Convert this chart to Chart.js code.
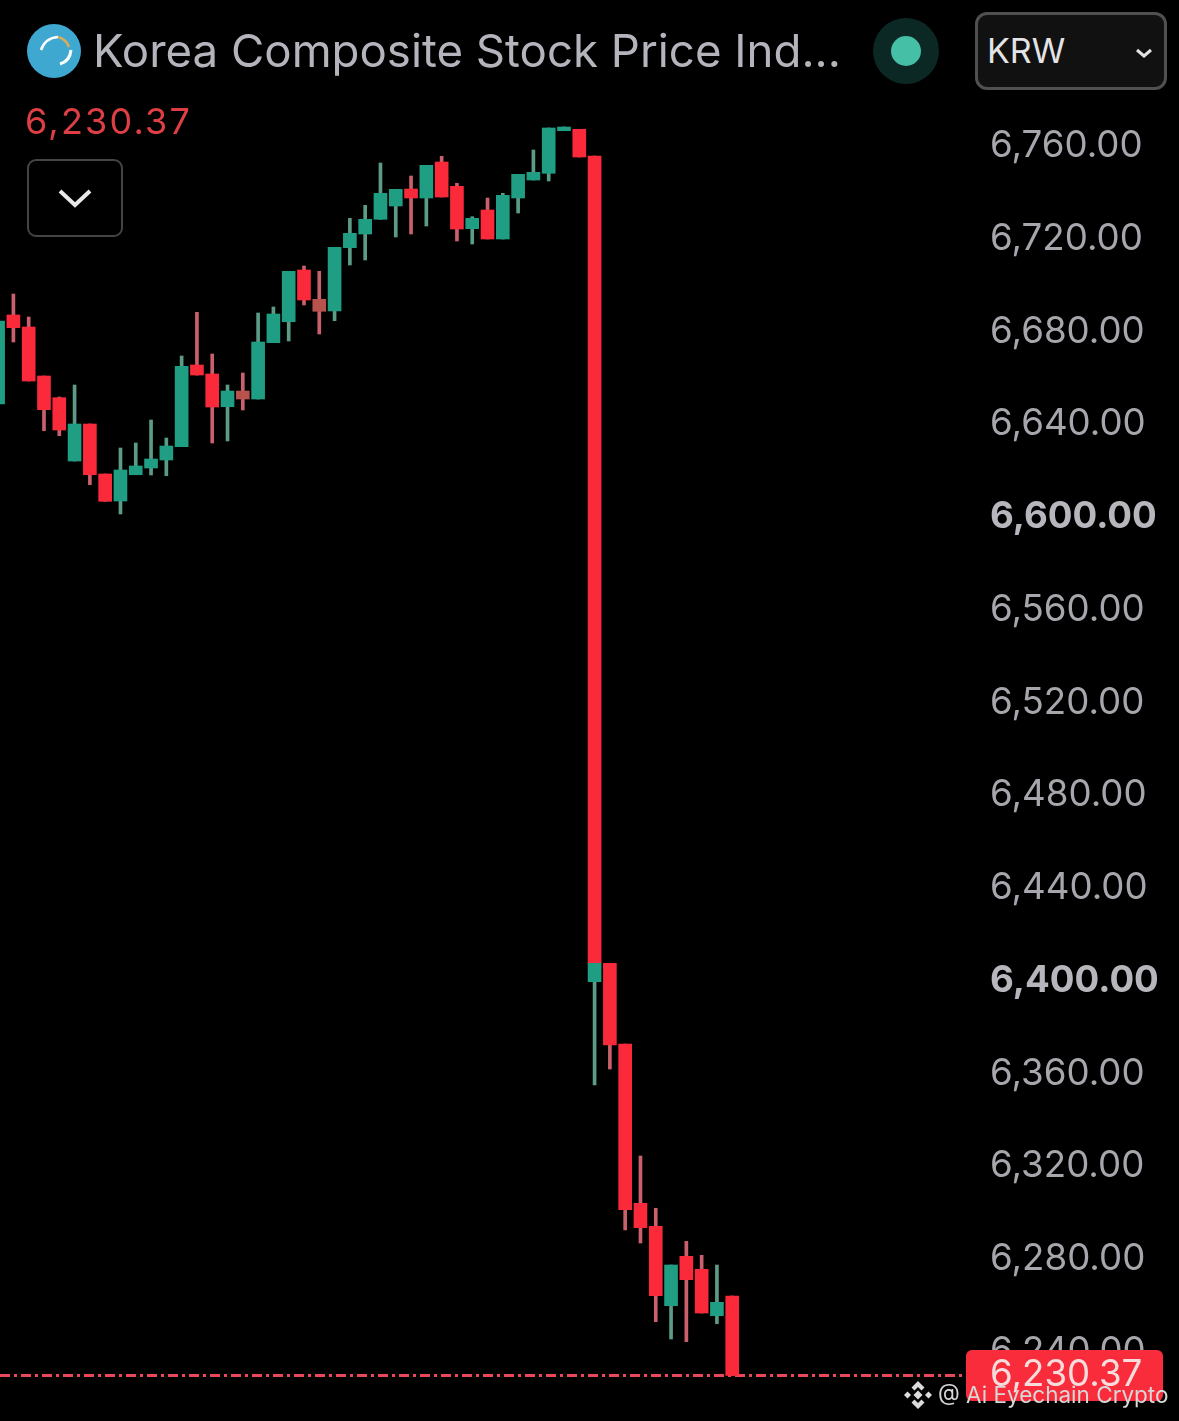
<!DOCTYPE html>
<html>
<head>
<meta charset="utf-8">
<title>Korea Composite Stock Price Index</title>
<script src="https://cdn.jsdelivr.net/npm/chart.js@4"></script>
<style>
html, body { margin: 0; padding: 0; background: #000; }
body { width: 1179px; height: 1421px; position: relative; overflow: hidden; font-family: Inter, sans-serif; }
canvas { position: absolute; left: 0; top: 0; }
.txt { position: absolute; white-space: nowrap; line-height: 1; }
#title { left: 93px; top: 28px; font-size: 45.600px; color: #b4b4bc; }
#price { left: 25px; top: 103px; font-size: 36px; letter-spacing: 2.200px; color: #dd3f44; }
#coin, #status, #mark { position: absolute; }
#more { position: absolute; left: 27px; top: 159px; width: 92px; height: 74px; border: 2.5px solid #444; border-radius: 9px; }
#pair { position: absolute; left: 975px; top: 12px; width: 186px; height: 72px; border: 3px solid #505050; border-radius: 12px; background: #111; }
#pair span { left: 9px; top: 19px; font-size: 34px; color: #e4e4e6; }
#credit { left: 938px; top: 1384px; font-size: 22.500px; color: #d8d8d8; }
</style>
</head>
<body>
<canvas id="chart" width="1179" height="1421"></canvas>

<svg id="coin" style="left:27px;top:24px" width="54" height="54" viewBox="0 0 54 54">
  <circle cx="27" cy="27" r="27" fill="#3fa8d0"/>
  <path d="M14 26 Q18 14 31 13" stroke="#fff" stroke-width="2.5" fill="none"/>
  <path d="M31 13 Q39 15 42 23" stroke="#d6ad5c" stroke-width="2.5" fill="none"/>
  <path d="M44 26 Q43 37 33 40" stroke="#fff" stroke-width="3" fill="none"/>
</svg>
<div id="title" class="txt">Korea Composite Stock Price Ind...</div>
<svg id="status" style="left:873px;top:18px" width="66" height="66">
  <circle cx="33" cy="33" r="33" fill="#0c2825"/>
  <circle cx="33" cy="33" r="15" fill="#45bfa6"/>
</svg>
<div id="pair">
  <span class="txt">KRW</span>
  <svg style="position:absolute;left:157px;top:32px" width="18" height="12">
    <path d="M2 3 L9 9 L16 3" stroke="#e4e4e6" stroke-width="3" fill="none"/>
  </svg>
</div>
<div id="price" class="txt">6,230.37</div>
<div id="more">
  <svg style="position:absolute;left:28px;top:26px" width="36" height="24">
    <path d="M3 4 L18 18 L33 4" stroke="#e8e8e8" stroke-width="4" fill="none"/>
  </svg>
</div>
<svg id="mark" style="left:904px;top:1381px" width="28" height="28" viewBox="0 0 28 28" fill="#dcdcdc">
  <path d="M14 0 L20.500 6.500 L17.500 9.500 L14 6 L10.500 9.500 L7.500 6.500 Z"/>
  <path d="M14 28 L20.500 21.500 L17.500 18.500 L14 22 L10.500 18.500 L7.500 21.500 Z"/>
  <path d="M0 14 L3.500 10.500 L7 14 L3.500 17.500 Z"/>
  <path d="M28 14 L24.500 10.500 L21 14 L24.500 17.500 Z"/>
  <path d="M14 9.500 L18.500 14 L14 18.500 L9.500 14 Z"/>
</svg>
<div id="credit" class="txt">@ Ai Eyechain Crypto</div>

<script>
// candle data, one entry per candle
// slot 39 is used twice, the big drop and the next session sit on the same column
var slots = [0, 1, 2, 3, 4, 5, 6, 7, 8, 9, 10, 11, 12, 13, 14, 15, 16, 17, 18, 19, 20, 21, 22, 23, 24, 25, 26, 27, 28, 29, 30, 31, 32, 33, 34, 35, 36, 37, 38, 39, 39, 40, 41, 42, 43, 44, 45, 46, 47, 48];
var opens = [6649.34, 6687.72, 6682.54, 6661.41, 6652.05, 6624.75, 6640.71, 6619.15, 6607.50, 6618.84, 6621.74, 6625.19, 6630.92, 6666.16, 6662.28, 6648.17, 6654.94, 6651.49, 6675.77, 6684.83, 6707.13, 6694.49, 6689.44, 6716.74, 6722.65, 6728.99, 6734.73, 6742.06, 6738.18, 6753.70, 6743.22, 6724.94, 6733.00, 6720.50, 6738.18, 6745.94, 6748.83, 6767.20, 6767.81, 6756.29, 6400.19, 6408.13, 6373.32, 6304.62, 6294.71, 6260.46, 6281.77, 6276.16, 6256.15, 6264.65];
var closes = [6685.13, 6682.24, 6659.26, 6646.88, 6638.12, 6640.71, 6618.84, 6607.37, 6620.87, 6622.60, 6625.62, 6631.22, 6665.60, 6661.84, 6648.04, 6654.94, 6651.49, 6676.08, 6688.15, 6706.57, 6694.19, 6689.32, 6716.92, 6722.95, 6728.99, 6740.20, 6741.93, 6738.18, 6752.28, 6738.61, 6724.81, 6729.42, 6720.50, 6739.34, 6748.40, 6749.26, 6768.37, 6768.80, 6755.86, 6408.13, 6408.13, 6372.89, 6301.87, 6294.10, 6264.77, 6278.01, 6271.68, 6257.31, 6261.93, 6230.37];
var highs = [6685.13, 6696.78, 6686.86, 6661.41, 6652.36, 6657.53, 6640.71, 6619.15, 6630.36, 6632.52, 6642.44, 6634.67, 6670.04, 6688.88, 6670.90, 6657.53, 6662.71, 6688.58, 6691.17, 6706.57, 6708.85, 6706.57, 6716.92, 6729.42, 6735.03, 6753.27, 6741.93, 6747.67, 6752.28, 6756.16, 6744.52, 6730.11, 6738.18, 6740.20, 6748.40, 6758.88, 6768.37, 6768.80, 6767.81, 6756.29, 6414.73, 6408.13, 6373.32, 6325.02, 6302.47, 6278.01, 6288.24, 6282.20, 6278.01, 6264.65];
var lows = [6649.34, 6676.08, 6659.26, 6637.82, 6635.67, 6624.75, 6614.53, 6607.37, 6601.90, 6618.84, 6618.72, 6618.41, 6630.92, 6661.84, 6632.52, 6633.38, 6646.75, 6651.49, 6675.77, 6676.51, 6692.03, 6679.53, 6685.26, 6709.28, 6711.44, 6728.99, 6721.36, 6722.65, 6726.10, 6738.61, 6719.63, 6718.34, 6720.50, 6720.50, 6731.71, 6745.94, 6745.51, 6767.20, 6755.86, 6408.13, 6355.64, 6362.54, 6293.11, 6287.50, 6253.56, 6246.10, 6244.94, 6257.31, 6252.69, 6230.37];
var fadedCandles = [16, 21];

var tickValues = [6760, 6720, 6680, 6640, 6600, 6560, 6520, 6480, 6440, 6400, 6360, 6320, 6280, 6240];
var boldTicks = [6600, 6400];
var lastPrice = 6230.37;

var upColor = '#1f9e84';
var downColor = '#fb2a3a';
var upWick = '#5c9c86';
var downWick = '#c9606c';
var fadedColor = '#b8524c';

function money(v) {
    return v.toLocaleString('en-US', { minimumFractionDigits: 2, maximumFractionDigits: 2 });
}

function makeBars(a, b) {
    return slots.map(function (s, i) {
        return { x: s, y: [a[i], b[i]] };
    });
}

function bodyColor(ctx) {
    var i = ctx.dataIndex;
    if (fadedCandles.indexOf(i) >= 0) return fadedColor;
    return closes[i] >= opens[i] ? upColor : downColor;
}

function wickColor(ctx) {
    var i = ctx.dataIndex;
    return closes[i] >= opens[i] ? upWick : downWick;
}

// the red price tag on top of the axis
var priceTag = {
    id: 'priceTag',
    afterDraw: function (chart) {
        var c = chart.ctx;
        var y = chart.scales.y.getPixelForValue(lastPrice);
        c.save();
        c.fillStyle = '#f92c3b';
        c.beginPath();
        c.roundRect(966, y - 25.5, 197, 51, 6);
        c.fill();
        c.fillStyle = '#f6dcdc';
        c.font = '36.700px Inter';
        c.textAlign = 'left';
        c.textBaseline = 'middle';
        c.fillText(money(lastPrice), 990, y - 1);
        c.restore();
    }
};

new Chart(document.getElementById('chart'), {
    type: 'bar',
    plugins: [priceTag],
    data: {
        datasets: [
            {
                data: makeBars(opens, closes),
                backgroundColor: bodyColor,
                barThickness: 13,
                grouped: false,
                borderSkipped: false,
                order: 1
            },
            {
                data: makeBars(lows, highs),
                backgroundColor: wickColor,
                barThickness: 3,
                grouped: false,
                borderSkipped: false,
                order: 2
            },
            {
                type: 'line',
                data: [{ x: 0.124, y: lastPrice }, { x: 64.2, y: lastPrice }],
                borderColor: '#e8485a',
                borderWidth: 3,
                borderDash: [10, 4, 3, 4],
                pointRadius: 0,
                order: 3
            }
        ]
    },
    options: {
        responsive: false,
        animation: false,
        layout: { padding: 0 },
        plugins: { legend: { display: false }, tooltip: { enabled: false } },
        scales: {
            x: {
                type: 'linear',
                display: false,
                offset: false,
                min: 0.124,
                max: 64.2
            },
            y: {
                position: 'right',
                min: 6210.74,
                max: 6823.57,
                afterBuildTicks: function (scale) {
                    scale.ticks = tickValues.map(function (v) { return { value: v }; });
                },
                afterFit: function (scale) {
                    // plot runs the full height, no room kept for the first and last label
                    scale.width = 199;
                    scale.paddingTop = 0;
                    scale.paddingBottom = 0;
                },
                grid: { display: false, drawTicks: false },
                border: { display: false },
                ticks: {
                    autoSkip: false,
                    padding: 10,
                    labelOffset: -1.4,
                    callback: function (v) { return money(v); },
                    color: function (ctx) {
                        return boldTicks.indexOf(ctx.tick.value) >= 0 ? '#b6b6bc' : '#a6a6ac';
                    },
                    font: function (ctx) {
                        var bold = ctx.tick && boldTicks.indexOf(ctx.tick.value) >= 0;
                        return { family: 'Inter', size: 36.7, weight: bold ? 'bold' : 'normal' };
                    }
                }
            }
        }
    }
});
</script>
</body>
</html>
